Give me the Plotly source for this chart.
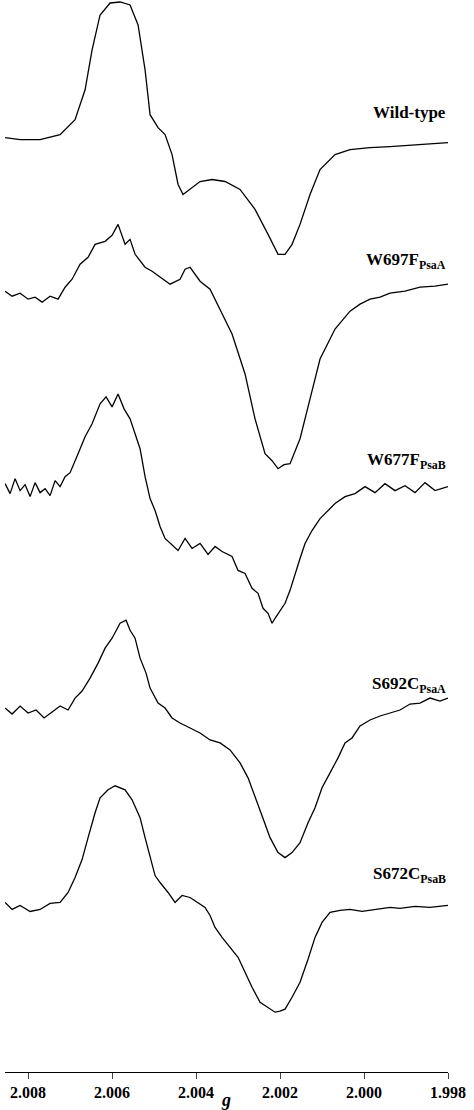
import plotly.graph_objects as go

# g-value positions (x pixels converted to g)
def g_of(px):
    return [2.008 - (p - 28) / 42 * 0.001 for p in px]

# Each spectrum: x pixel positions and y (vertical pixel, downwards)
wt_x = [5, 20, 40, 60, 75, 85, 92, 100, 110, 120, 130, 138, 145, 150, 158, 165, 172, 178, 183, 190, 200, 212, 225, 240, 255, 268, 278, 285, 292, 300, 310, 320, 335, 350, 370, 390, 420, 448]
wt_y = [138, 140, 140, 135, 120, 90, 50, 15, 3, 2, 5, 25, 70, 115, 128, 135, 155, 185, 195, 190, 182, 180, 182, 190, 210, 235, 255, 255, 245, 225, 195, 170, 155, 150, 148, 147, 145, 143]

w697_x = [5, 12, 20, 28, 35, 42, 50, 58, 65, 72, 80, 88, 95, 105, 112, 118, 125, 130, 135, 145, 152, 160, 170, 180, 185, 190, 200, 210, 220, 232, 245, 255, 265, 272, 278, 284, 290, 300, 310, 320, 335, 350, 360, 370, 380, 390, 405, 420, 435, 448]
w697_y = [292, 297, 294, 300, 298, 303, 297, 300, 288, 280, 265, 258, 245, 242, 236, 225, 245, 240, 255, 268, 272, 278, 285, 280, 270, 268, 282, 290, 310, 335, 375, 420, 455, 462, 470, 466, 465, 440, 400, 360, 330, 312, 305, 300, 298, 294, 292, 288, 287, 285]

w677_x = [5, 10, 15, 20, 25, 30, 35, 40, 45, 50, 55, 60, 65, 70, 78, 85, 92, 100, 106, 112, 118, 124, 130, 135, 140, 145, 150, 155, 160, 165, 170, 178, 185, 192, 200, 208, 215, 222, 232, 238, 245, 252, 258, 263, 268, 272, 275, 280, 285, 290, 295, 300, 305, 312, 320, 328, 335, 345, 355, 365, 375, 385, 395, 405, 415, 425, 435, 448]
w677_y = [485, 495, 480, 492, 486, 498, 484, 494, 490, 497, 482, 488, 478, 474, 455, 438, 425, 405, 398, 408, 395, 410, 420, 435, 450, 478, 500, 512, 528, 540, 545, 552, 540, 550, 545, 556, 548, 553, 558, 572, 575, 590, 595, 610, 615, 625, 620, 612, 605, 592, 575, 560, 545, 532, 520, 512, 505, 498, 495, 488, 494, 485, 492, 487, 494, 484, 492, 488]

s692_x = [5, 12, 20, 28, 36, 44, 52, 60, 68, 75, 82, 90, 98, 105, 112, 120, 126, 130, 135, 140, 146, 150, 158, 165, 172, 180, 190, 200, 210, 220, 230, 240, 248, 255, 262, 270, 278, 285, 292, 300, 308, 315, 322, 330, 338, 345, 352, 360, 370, 380, 390, 400, 410, 420, 430, 440, 448]
s692_y = [710, 716, 708, 715, 712, 720, 714, 708, 712, 700, 693, 680, 665, 650, 640, 625, 622, 632, 640, 660, 675, 690, 705, 710, 720, 725, 730, 735, 742, 745, 752, 765, 780, 800, 818, 840, 855, 860, 855, 845, 825, 810, 790, 775, 760, 745, 740, 728, 722, 718, 715, 712, 706, 705, 700, 703, 700]

s672_x = [5, 12, 20, 30, 40, 50, 60, 68, 75, 82, 88, 95, 100, 108, 115, 120, 125, 132, 140, 145, 150, 155, 160, 168, 175, 182, 190, 198, 205, 210, 215, 222, 230, 238, 245, 252, 260, 268, 275, 280, 285, 292, 300, 308, 315, 322, 330, 340, 350, 362, 375, 390, 400, 415, 430, 448]
s672_y = [905, 912, 908, 914, 912, 906, 905, 895, 880, 862, 840, 815, 800, 792, 788, 790, 792, 802, 820, 840, 860, 878, 885, 895, 905, 898, 900, 905, 910, 918, 930, 940, 950, 960, 975, 990, 1005, 1010, 1015, 1014, 1012, 1000, 985, 962, 940, 925, 915, 913, 912, 914, 912, 910, 911, 909, 910, 908]

labels = ["Wild-type", "W697F<sub>PsaA</sub>", "W677F<sub>PsaB</sub>", "S692C<sub>PsaA</sub>", "S672C<sub>PsaB</sub>"]
label_y = [113, 262, 462, 687, 877]

tick_vals = [2.008, 2.006, 2.004, 2.002, 2.000, 1.998]
tick_text = ["<b>2.008</b>", "<b>2.006</b>", "<b>2.004</b>", "<b>2.002</b>", "<b>2.000</b>", "<b>1.998</b>"]

fig = go.Figure()
for xs, ys in [(wt_x, wt_y), (w697_x, w697_y), (w677_x, w677_y), (s692_x, s692_y), (s672_x, s672_y)]:
    fig.add_trace(go.Scatter(x=g_of(xs), y=ys, mode="lines",
                             line=dict(color="black", width=1.3), showlegend=False))

for lab, ly in zip(labels, label_y):
    fig.add_annotation(x=1.998, y=ly, text="<b>" + lab + "</b>", showarrow=False,
                       xanchor="right", yanchor="middle",
                       font=dict(family="Liberation Serif", size=17, color="black"))

fig.update_layout(
    width=474, height=1110,
    margin=dict(l=5, r=26, t=0, b=38),
    plot_bgcolor="white", paper_bgcolor="white",
    xaxis=dict(range=[2.00855, 1.998], tickvals=tick_vals, ticktext=tick_text,
               ticks="outside", ticklen=6, showline=True, linecolor="black",
               showgrid=False, zeroline=False, automargin=False,
               tickfont=dict(family="Liberation Serif", size=16, color="black"),
               title=dict(text="<b><i>g</i></b>", standoff=0,
                          font=dict(family="Liberation Serif", size=18, color="black"))),
    yaxis=dict(range=[1075, 0], visible=False),
)
fig.write_html("out.html", config={"displayModeBar": False},
               post_script="document.body.style.margin='0';document.body.style.overflow='hidden';")
